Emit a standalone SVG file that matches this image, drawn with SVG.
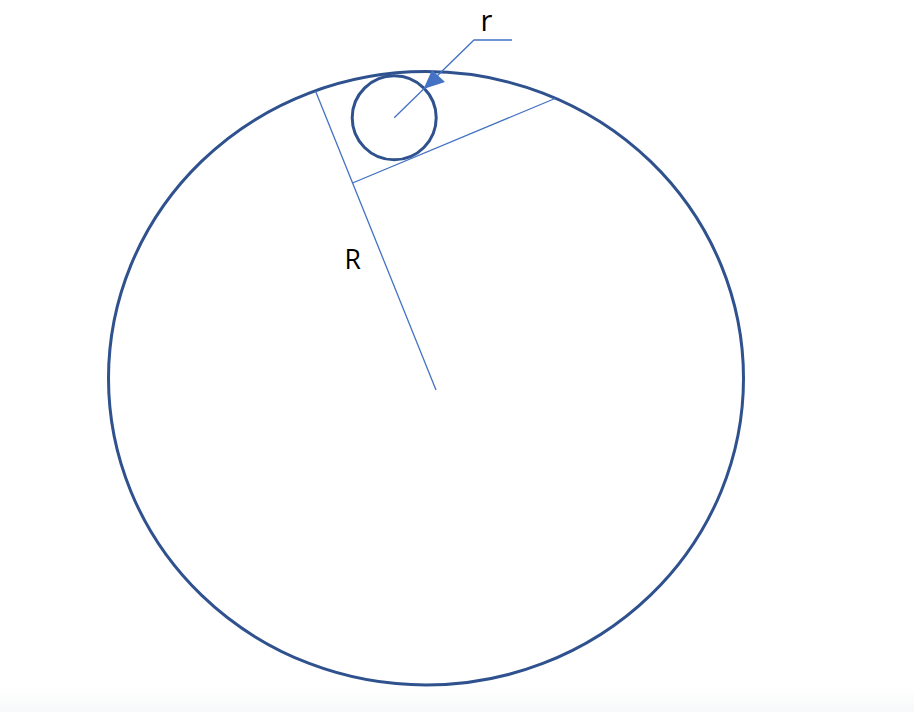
<svg xmlns="http://www.w3.org/2000/svg" width="914" height="712" viewBox="0 0 914 712">
<defs>
<style>
.shape{fill:none;stroke:#2F528F;stroke-width:3}
.thin{fill:none;stroke:#4472C4;stroke-width:1.3}
.lbl{font-family:"Open Sans","Liberation Sans",sans-serif;fill:#000}
</style>
<linearGradient id="bg" x1="0" y1="0" x2="0" y2="1">
<stop offset="0" stop-color="#ffffff"/>
<stop offset="1" stop-color="#f7f8f9"/>
</linearGradient>
</defs>
<rect width="914" height="712" fill="#fff"/>
<rect y="688" width="914" height="24" fill="url(#bg)"/>
<g id="big-circle"><ellipse class="shape" cx="426" cy="378.3" rx="317.5" ry="306.7"/></g>
<g id="small-circle"><circle class="shape" cx="394.2" cy="117.8" r="42"/></g>
<g id="connectors">
<line class="thin" x1="315.5" y1="91" x2="436" y2="390"/>
<line class="thin" x1="352.5" y1="183" x2="555" y2="98.5"/>
<polyline class="thin" points="394.2,117.8 474,40 512,40"/>
<polygon fill="#4472C4" points="423.5,89 432,70 445,82"/>
</g>
<g id="labels">
<text class="lbl" x="480.5" y="30.7" font-size="29">r</text>
<text class="lbl" x="344.5" y="269.3" font-size="26.5">R</text>
</g>
</svg>
